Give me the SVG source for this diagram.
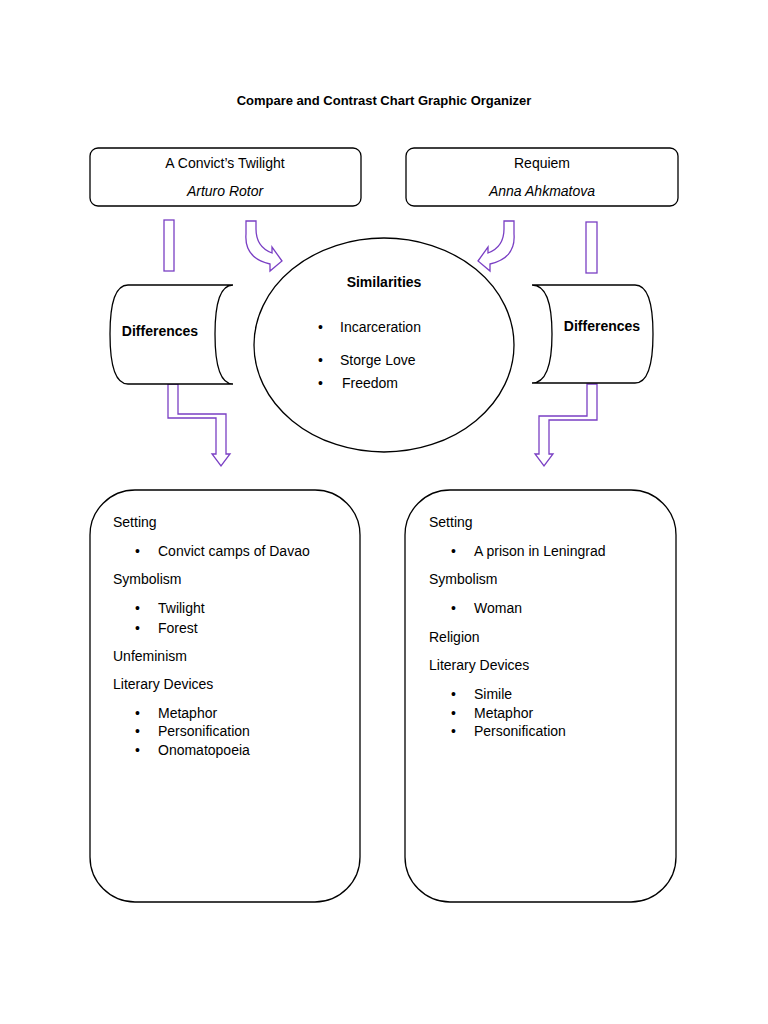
<svg xmlns="http://www.w3.org/2000/svg" width="768" height="1024" viewBox="0 0 768 1024">
<style>
text{font-family:"Liberation Sans",Arial,sans-serif;font-size:14px;fill:#000}
.b{font-weight:bold}
.i{font-style:italic}
.s{fill:#fff;stroke:#000;stroke-width:1.3}
.a{fill:#fff;stroke:#7a3fc4;stroke-width:1.3}
</style>
<rect width="768" height="1024" fill="#fff"/>
<text x="384" y="105" text-anchor="middle" class="b" style="font-size:13px">Compare and Contrast Chart Graphic Organizer</text>
<g id="connectors">
<rect class="a" x="164" y="220" width="10" height="51"/>
<rect class="a" x="586" y="222" width="11" height="51"/>
<path class="a" d="M246,221 h10 v8 q0,18 16,24 v-6 l10,14 l-12,10 v-7 q-26,-6 -24,-30 z"/>
<path class="a" d="M514,221 h-10 v8 q0,18 -16,24 v-6 l-10,14 l12,10 v-7 q26,-6 24,-30 z"/>
<path class="a" d="M168,384 h10 v30 h48 v40 h4 l-9,12 l-9,-12 h4 v-36 h-48 z"/>
<path class="a" d="M597,384 h-10 v32 h-48 v38 h-4 l9,12 l9,-12 h-4 v-34 h48 z"/>
</g>
<g id="top-left"><rect class="s" x="90" y="148" width="271" height="58" rx="8"/>
<text x="225" y="168" text-anchor="middle">A Convict’s Twilight</text>
<text x="225" y="196" text-anchor="middle" class="i">Arturo Rotor</text></g>
<g id="top-right"><rect class="s" x="406" y="148" width="272" height="58" rx="8"/>
<text x="542" y="168" text-anchor="middle">Requiem</text>
<text x="542" y="196" text-anchor="middle" class="i">Anna Ahkmatova</text></g>
<g id="similarities"><ellipse class="s" cx="384" cy="345" rx="130" ry="107"/>
<text x="384" y="287" text-anchor="middle" class="b">Similarities</text>
<text x="318" y="332">•</text><text x="340" y="332">Incarceration</text>
<text x="318" y="365">•</text><text x="340" y="365">Storge Love</text>
<text x="318" y="388">•</text><text x="342" y="388">Freedom</text></g>
<g id="diff-left"><path class="s" d="M233,285 H128 Q110,285 110,334 Q110,384 128,384 H233 Q215,384 215,334 Q215,285 233,285 Z"/>
<text x="160" y="336" text-anchor="middle" class="b">Differences</text></g>
<g id="diff-right"><path class="s" d="M532,285 H635 Q653,285 653,334 Q653,383 635,383 H532 Q552,383 552,334 Q552,285 532,285 Z"/>
<text x="602" y="331" text-anchor="middle" class="b">Differences</text></g>
<g id="box-left"><rect class="s" x="90" y="490" width="270" height="412" rx="45"/>
<text x="113" y="527">Setting</text>
<text x="135" y="556">•</text><text x="158" y="556">Convict camps of Davao</text>
<text x="113" y="584">Symbolism</text>
<text x="135" y="613">•</text><text x="158" y="613">Twilight</text>
<text x="135" y="633">•</text><text x="158" y="633">Forest</text>
<text x="113" y="661">Unfeminism</text>
<text x="113" y="689">Literary Devices</text>
<text x="135" y="718">•</text><text x="158" y="718">Metaphor</text>
<text x="135" y="736">•</text><text x="158" y="736">Personification</text>
<text x="135" y="755">•</text><text x="158" y="755">Onomatopoeia</text></g>
<g id="box-right"><rect class="s" x="405" y="490" width="271" height="412" rx="45"/>
<text x="429" y="527">Setting</text>
<text x="451" y="556">•</text><text x="474" y="556">A prison in Leningrad</text>
<text x="429" y="584">Symbolism</text>
<text x="451" y="613">•</text><text x="474" y="613">Woman</text>
<text x="429" y="642">Religion</text>
<text x="429" y="670">Literary Devices</text>
<text x="451" y="699">•</text><text x="474" y="699">Simile</text>
<text x="451" y="718">•</text><text x="474" y="718">Metaphor</text>
<text x="451" y="736">•</text><text x="474" y="736">Personification</text></g>
</svg>
